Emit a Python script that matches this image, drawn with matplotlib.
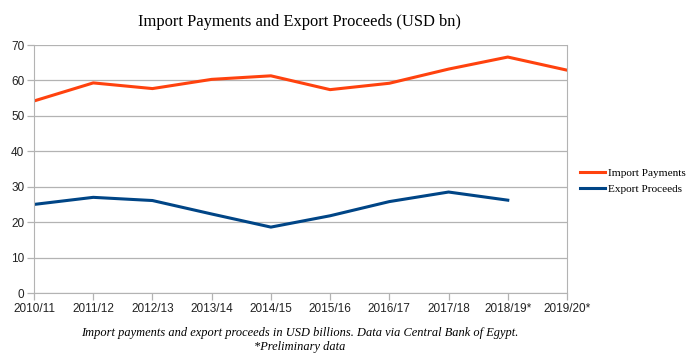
import matplotlib.pyplot as plt
import numpy as np

years = ["2010/11", "2011/12", "2012/13", "2013/14", "2014/15",
         "2015/16", "2016/17", "2017/18", "2018/19*", "2019/20*"]
imports = [54.2, 59.3, 57.7, 60.3, 61.3, 57.4, 59.2, 63.2, 66.6, 62.9]
exports = [25.0, 27.0, 26.1, 22.3, 18.6, 21.8, 25.8, 28.5, 26.2]

grid_col = '#b3b3b3'

fig = plt.figure(figsize=(7, 3.62), dpi=100)
ax = fig.add_axes([34/700, 1-293/362, (567-34)/700, (293-45)/362])

x = np.arange(len(years))
ax.plot(x, imports, color='#ff420e', lw=2.2, label="Import Payments")
ax.plot(x[:len(exports)], exports, color='#004586', lw=2.2, label="Export Proceeds")

ax.set_xlim(0, len(years)-1)
ax.set_ylim(0, 70)
ax.set_yticks(range(0, 71, 10))
ax.set_xticks(x)
ax.set_xticklabels(years)
ax.grid(axis='y', color=grid_col, lw=0.9)
ax.set_axisbelow(True)
for s in ax.spines.values():
    s.set_color(grid_col)
ax.spines['top'].set_visible(False)
ax.tick_params(colors=grid_col, labelcolor='#222222', length=5, width=0.9,
               labelsize=8.5, pad=2)
for lab in ax.get_xticklabels() + ax.get_yticklabels():
    lab.set_family('Liberation Sans')

fig.text(299/700, 1-22/362, "Import Payments and Export Proceeds (USD bn)",
         ha='center', va='center', family='Liberation Serif', fontsize=11.9)

ax.legend(loc='center left', bbox_to_anchor=(580/700, 1-181/362),
          bbox_transform=fig.transFigure, frameon=False,
          borderpad=0, borderaxespad=0,
          prop={'family': 'Liberation Serif', 'size': 8.1},
          handlelength=2.2, handletextpad=0.3, labelspacing=0.5)

fig.text(300/700, 1-340/362,
         "Import payments and export proceeds in USD billions. Data via Central Bank of Egypt.\n*Preliminary data",
         ha='center', va='center', family='Liberation Serif', style='italic',
         fontsize=8.9, linespacing=1.25)

fig.savefig("out.png", dpi=100)
